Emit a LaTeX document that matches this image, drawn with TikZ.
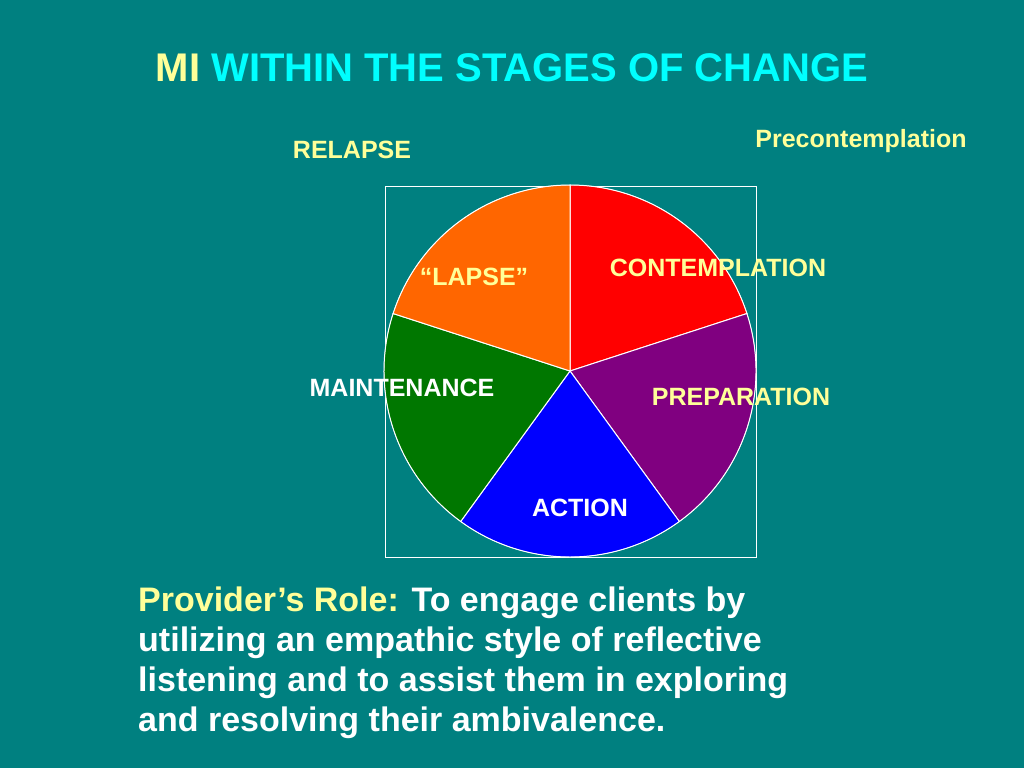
\documentclass[tikz,border=0pt]{standalone}
\usepackage{fontspec}
\setmainfont{Liberation Sans}
\usepackage{xcolor}
\usetikzlibrary{positioning}
\definecolor{bgteal}{HTML}{008080}
\definecolor{paleyellow}{HTML}{FFFF99}
\definecolor{titlecyan}{HTML}{00FFFF}
\definecolor{sliceorange}{HTML}{FF6600}
\definecolor{slicegreen}{HTML}{007700}
\definecolor{slicepurple}{HTML}{800080}
\tikzset{
  slice/.style={draw=white, line width=1pt},
  stagelabel/.style={font=\bfseries\fontsize{25}{30}\selectfont, text=paleyellow, inner sep=0pt},
  bodyline/.style={font=\bfseries\fontsize{34}{40}\selectfont, text=white, anchor=base west, inner sep=0pt}
}
\begin{document}
\begin{tikzpicture}[x=1pt, y=-1pt]
        % Background
        \fill[bgteal] (0,0) rectangle (1024,768);
        \useasboundingbox (0,0) rectangle (1024,768);

        % Title
        \node[font=\bfseries\fontsize{40}{48}\selectfont, inner sep=0pt] (title) at (512,68)
          {\textcolor{paleyellow}{MI} \textcolor{titlecyan}{WITHIN THE STAGES OF CHANGE}};

        % Corner labels
        \node[stagelabel] (relapse) at (352,150) {RELAPSE};
        \node[stagelabel] (precon) at (861,141) {Precontemplation};

        % Frame and pie
        \draw[white] (385,186) rectangle (756,557);
        \begin{scope}[shift={(570,371)}, yscale=-1]
          \fill[red, slice] (0,0) -- (18:186) arc[start angle=18, end angle=90, radius=186] -- cycle;
          \fill[slicepurple, slice] (0,0) -- (-54:186) arc[start angle=-54, end angle=18, radius=186] -- cycle;
          \fill[blue, slice] (0,0) -- (-126:186) arc[start angle=-126, end angle=-54, radius=186] -- cycle;
          \fill[slicegreen, slice] (0,0) -- (162:186) arc[start angle=162, end angle=234, radius=186] -- cycle;
          \fill[sliceorange, slice] (0,0) -- (90:186) arc[start angle=90, end angle=162, radius=186] -- cycle;
          \draw[white] (0,0) circle (186);
        \end{scope}

        % Stage labels
        \node[stagelabel] (lapse) at (474,277) {``LAPSE''};
        \node[stagelabel] (contemp) at (718,268) {CONTEMPLATION};
        \node[stagelabel, text=white] (maint) at (402,388) {MAINTENANCE};
        \node[stagelabel] (prep) at (741,397) {PREPARATION};
        \node[stagelabel, text=white] (action) at (580,508) {ACTION};

        % Provider's role
        \node[bodyline] (l1) at (138,611) {\textcolor{paleyellow}{Provider’s Role:} To engage clients by};
        \node[bodyline] (l2) at (138,651) {utilizing an empathic style of reflective};
        \node[bodyline] (l3) at (138,691) {listening and to assist them in exploring};
        \node[bodyline] (l4) at (138,731) {and resolving their ambivalence.};
\end{tikzpicture}
\end{document}
